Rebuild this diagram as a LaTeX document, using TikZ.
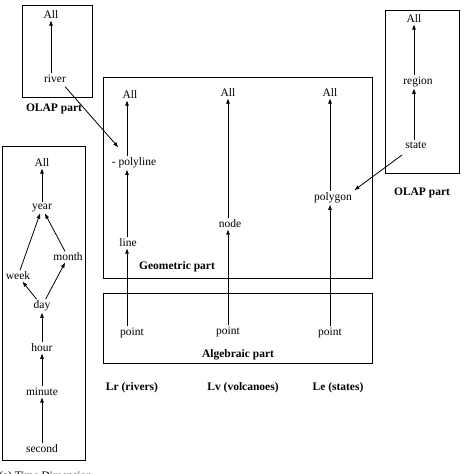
\documentclass[tikz,border=0pt]{standalone}
\usepackage{fontspec}
\setmainfont{Liberation Serif}
\usetikzlibrary{arrows.meta}
\begin{document}
\begin{tikzpicture}[x=1pt,y=-1pt,
 lbl/.style={font=\fontsize{11.5}{13}\selectfont, inner sep=1.5pt},
 ttl/.style={font=\fontsize{11.5}{13}\selectfont\bfseries, inner sep=1pt},
 arr/.style={-{Triangle[length=5pt,width=3.5pt]}, line width=0.8pt},
 box/.style={draw, line width=1pt}]
\useasboundingbox (0,0) rectangle (474,474);
% boxes
\draw[box] (22,5) rectangle (92,97);
\draw[box] (2,146) rectangle (85,460);
\draw[box] (103,77) rectangle (372,278);
\draw[box] (103,293) rectangle (372,363);
\draw[box] (385,10) rectangle (459,173);
% river OLAP
\node[lbl] (rall) at (51,15) {All};
\node[lbl] (river) at (55,79) {river};
\node[ttl] (olap1) at (54,109) {OLAP part};
\draw[arr] (river.north -| rall) -- (rall.south);
% time dimension
\node[lbl] (tall) at (42,163) {All};
\node[lbl] (year) at (42,208) {year};
\node[lbl] (month) at (68,257) {month};
\node[lbl] (week) at (18,276) {week};
\node[lbl] (day) at (42,306) {day};
\node[lbl] (hour) at (42,348) {hour};
\node[lbl] (minute) at (42,392) {minute};
\node[lbl] (second) at (42,449) {second};
\draw[arr] (year) -- (tall);
\draw[arr] (week) -- (year);
\draw[arr] (month) -- (year);
\draw[arr] (day) -- (week);
\draw[arr] (day) -- (month);
\draw[arr] (hour) -- (day);
\draw[arr] (minute) -- (hour);
\draw[arr] (second) -- (minute);
\node[lbl, anchor=base west, inner sep=0pt] (tcap) at (-1,479) {(a) Time Dimension};
% geometric column 1
\node[lbl] (gall1) at (130,95) {All};
\node[lbl] (polyline) at (134,163) {- polyline};
\node[lbl] (line) at (128,243) {line};
\node[lbl] (point1) at (132,333) {point};
\coordinate (c1) at (127,0);
\draw[arr] (c1 |- point1.north) -- (c1 |- line.south);
\draw[arr] (c1 |- line.north) -- (c1 |- polyline.south);
\draw[arr] (c1 |- polyline.north) -- (c1 |- gall1.south);
% column 2
\node[lbl] (gall2) at (228,93) {All};
\node[lbl] (gnode) at (230,224) {node};
\node[lbl] (point2) at (228,332) {point};
\coordinate (c2) at (228,0);
\draw[arr] (c2 |- point2.north) -- (c2 |- gnode.south);
\draw[arr] (c2 |- gnode.north) -- (c2 |- gall2.south);
% column 3
\node[lbl] (gall3) at (330,93) {All};
\node[lbl] (polygon) at (333,198) {polygon};
\node[lbl] (point3) at (330,333) {point};
\coordinate (c3) at (330,0);
\draw[arr] (c3 |- point3.north) -- (c3 |- polygon.south);
\draw[arr] (c3 |- polygon.north) -- (c3 |- gall3.south);
% part labels
\node[ttl] (geo) at (177,267) {Geometric part};
\node[ttl] (alg) at (238,355) {Algebraic part};
\node[ttl] (lr) at (132,388) {Lr (rivers)};
\node[ttl] (lv) at (243,388) {Lv (volcanoes)};
\node[ttl] (le) at (338,388) {Le (states)};
% right OLAP
\node[lbl] (sall) at (414,19) {All};
\node[lbl] (region) at (418,82) {region};
\node[lbl] (state) at (416,145) {state};
\node[ttl] (olap2) at (422,193) {OLAP part};
\coordinate (c4) at (414,0);
\draw[arr] (c4 |- state.north) -- (c4 |- region.south);
\draw[arr] (c4 |- region.north) -- (c4 |- sall.south);
% cross connectors
\draw[arr] ([xshift=10pt,yshift=-2pt]river.south) -- ([xshift=8pt,yshift=9pt]polyline.north west);
\draw[arr] ([xshift=-14pt,yshift=-5pt]state.south) -- ([xshift=1pt,yshift=1pt]polygon.north east);
\end{tikzpicture}
\end{document}
